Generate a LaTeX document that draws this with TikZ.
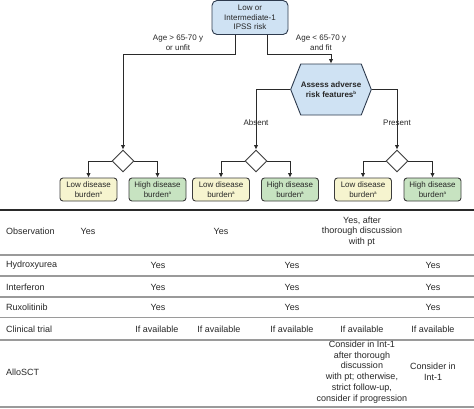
\documentclass[tikz,border=0pt]{standalone}
\usepackage{fontspec}
\setmainfont{Liberation Sans}
\usetikzlibrary{arrows.meta,shapes.geometric,shapes.symbols}
\definecolor{bluefill}{HTML}{CFE2F3}
\definecolor{blueborder}{HTML}{2E3B4E}
\definecolor{lowfill}{HTML}{F6F4CF}
\definecolor{highfill}{HTML}{C7E3C1}
\definecolor{boxborder}{HTML}{3C3C3C}
\definecolor{linec}{HTML}{2A2A2A}
\definecolor{rulegray}{HTML}{9A9A9A}
\definecolor{txt}{HTML}{262626}
\newcommand{\fnmark}[1]{\raisebox{2.6pt}{\fontsize{4.5}{4.5}\selectfont #1}}
\tikzset{
  flowtext/.style={font=\fontsize{8}{9.6}\selectfont, text=txt, align=center},
  tabtext/.style={font=\fontsize{9}{10.8}\selectfont, text=txt, align=center, inner sep=0pt},
  bluebox/.style={flowtext, draw=blueborder, fill=bluefill, line width=0.9pt, rounded corners=5pt, minimum width=76pt, minimum height=34pt, inner sep=0pt},
  hexbox/.style={flowtext, font=\fontsize{8}{9.6}\selectfont\bfseries, draw=blueborder, fill=bluefill, line width=0.9pt, shape=signal, signal to=west and east, signal pointer angle=137, minimum width=80pt, minimum height=51pt, inner sep=0pt},
  decision/.style={shape=diamond, draw=boxborder, fill=white, line width=0.9pt, minimum width=22pt, minimum height=22pt, inner sep=0pt},
  lowbox/.style={flowtext, draw=boxborder, fill=lowfill, line width=0.9pt, rounded corners=3pt, minimum width=57pt, minimum height=23pt, inner sep=0pt},
  highbox/.style={flowtext, draw=boxborder, fill=highfill, line width=0.9pt, rounded corners=3pt, minimum width=57pt, minimum height=23pt, inner sep=0pt},
  conn/.style={draw=linec, line width=0.9pt},
  arr/.style={conn, -{Latex[length=4.5pt,width=4.5pt]}},
  toprule/.style={draw=linec, line width=1.2pt},
  seprule/.style={draw=rulegray, line width=1.6pt},
  lbl/.style={flowtext, inner sep=1pt}
}
\begin{document}
\begin{tikzpicture}[x=1pt,y=-1pt]
\useasboundingbox (0,0) rectangle (474,408);

% flowchart
\node[bluebox] (top) at (250,17.5) {Low or\\Intermediate-1\\IPSS risk};
\node[hexbox] (hex) at (331,89.5) {Assess adverse\\risk features\fnmark{b}};
\node[decision] (d1) at (123,161) {};
\node[decision] (d2) at (256,161) {};
\node[decision] (d3) at (397,161) {};
\node[lowbox] (l1) at (88.5,189.5) {Low disease\\burden\fnmark{a}};
\node[highbox] (h1) at (157.5,189.5) {High disease\\burden\fnmark{a}};
\node[lowbox] (l2) at (221,189.5) {Low disease\\burden\fnmark{a}};
\node[highbox] (h2) at (290,189.5) {High disease\\burden\fnmark{a}};
\node[lowbox] (l3) at (363,189.5) {Low disease\\burden\fnmark{a}};
\node[highbox] (h3) at (432.5,189.5) {High disease\\burden\fnmark{a}};

\node[lbl] (old) at (178,42.5) {Age > 65-70 y\\or unfit};
\node[lbl] (young) at (321,42.5) {Age < 65-70 y\\and fit};
\node[lbl, inner sep=0pt] (absent) at (256,123) {Absent};
\node[lbl, inner sep=0pt] (present) at (397,123) {Present};

\coordinate (tl) at ([xshift=-15pt]top.south);
\coordinate (tr) at ([xshift=17pt]top.south);
\draw[arr] (tl) -- ++(0,19) -| (d1.north);
\draw[arr] (tr) -- ++(0,19) -| (hex.north);
\draw[conn] (hex.west) -| ([yshift=-6pt]absent.north);
\draw[conn] (hex.east) -| ([yshift=-6pt]present.north);
\draw[arr] ([yshift=5pt]absent.south) -- (d2.north);
\draw[arr] ([yshift=5pt]present.south) -- (d3.north);
\draw[arr] (d1.west) -| (l1.north);
\draw[arr] (d1.east) -| (h1.north);
\draw[arr] (d2.west) -| (l2.north);
\draw[arr] (d2.east) -| (h2.north);
\draw[arr] (d3.west) -| (l3.north);
\draw[arr] (d3.east) -| (h3.north);

% table rules
\draw[toprule] (0,210) -- (474,210);
\draw[seprule] (0,255) -- (474,255);
\draw[seprule] (0,276) -- (474,276);
\draw[seprule] (0,297) -- (474,297);
\draw[seprule] (0,317.5) -- (474,317.5);
\draw[seprule] (0,340) -- (474,340);
\draw[seprule] (0,407) -- (474,407);

% Observation
\node[tabtext, anchor=west] (obs) at (6,231) {Observation};
\node[tabtext] (obs1) at (88,231) {Yes};
\node[tabtext] (obs2) at (221,231) {Yes};
\node[tabtext] (obs3) at (362,231.5) {Yes, after\\thorough discussion\\with pt};
% Hydroxyurea
\node[tabtext, anchor=west] (hyd) at (6,265.5) {Hydroxyurea};
\node[tabtext] (hyd1) at (158,265.5) {Yes};
\node[tabtext] (hyd2) at (292,265.5) {Yes};
\node[tabtext] (hyd3) at (433,265.5) {Yes};
% Interferon
\node[tabtext, anchor=west] (ifn) at (6,287) {Interferon};
\node[tabtext] (ifn1) at (158,287) {Yes};
\node[tabtext] (ifn2) at (292,287) {Yes};
\node[tabtext] (ifn3) at (433,287) {Yes};
% Ruxolitinib
\node[tabtext, anchor=west] (rux) at (6,307.5) {Ruxolitinib};
\node[tabtext] (rux1) at (158,307.5) {Yes};
\node[tabtext] (rux2) at (292,307.5) {Yes};
\node[tabtext] (rux3) at (433,307.5) {Yes};
% Clinical trial
\node[tabtext, anchor=west] (ct) at (6,329) {Clinical trial};
\node[tabtext] (ct1) at (157,329) {If available};
\node[tabtext] (ct2) at (219,329) {If available};
\node[tabtext] (ct3) at (292,329) {If available};
\node[tabtext] (ct4) at (362,329) {If available};
\node[tabtext] (ct5) at (433,329) {If available};
% AlloSCT
\node[tabtext, anchor=west] (allo) at (6,372) {AlloSCT};
\node[tabtext] (allo1) at (362,372) {Consider in Int-1\\after thorough\\discussion\\with pt; otherwise,\\strict follow-up,\\consider if progression};
\node[tabtext] (allo2) at (433,371.5) {Consider in\\Int-1};
\end{tikzpicture}
\end{document}
